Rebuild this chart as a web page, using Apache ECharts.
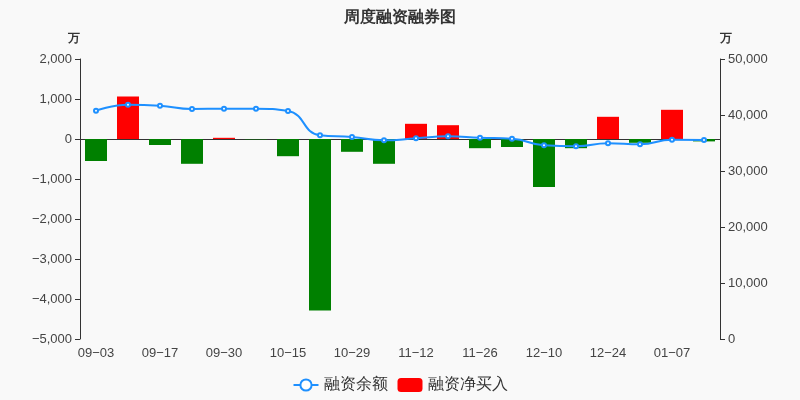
<!DOCTYPE html>
<html>
<head>
<meta charset="utf-8">
<script src="https://cdn.jsdelivr.net/npm/echarts@6/dist/echarts.min.js"></script>
<style>
html,body{margin:0;padding:0;background:#f9f9f9;}
#main{width:800px;height:400px;}
</style>
</head>
<body>
<div id="main"></div>
<script>
var dates=['09-03','09-10','09-17','09-24','09-30','10-08','10-15','10-22','10-29','11-05',
'11-12','11-19','11-26','12-03','12-10','12-17','12-24','12-31','01-07','01-14'];
var netBuy=[-550,1060,-150,-620,30,-10,-430,-4290,-320,-620,
380,345,-230,-200,-1200,-230,555,-95,730,-60];
var balance=[40770,41840,41660,41070,41120,41120,40710,36370,36070,35480,
35840,36190,35950,35770,34590,34410,34950,34770,35590,35540];
var leftTicks=[-5000,2000,1000];
var rightTicks=[0,50000,10000];

function fmt(v){
  var s=Math.abs(v).toString().replace(/\B(?=(\d{3})+(?!\d))/g,',');
  return (v<0?'\u2212':'')+s;
}

var chart=echarts.init(document.getElementById('main'));
chart.setOption({
  backgroundColor:'#f9f9f9',
  title:{
    text:'周度融资融券图',
    left:'center',
    top:5,
    textStyle:{fontSize:16,fontWeight:'bold',color:'#333'}
  },
  legend:{
    bottom:2,
    itemGap:10,
    itemWidth:25,
    itemHeight:14,
    textStyle:{fontSize:16,color:'#333'},
    data:['融资余额',{name:'融资净买入',itemStyle:{color:'#ff0000'}}]
  },
  grid:{left:80,right:80,top:59,bottom:61},
  xAxis:{
    type:'category',
    data:dates,
    axisLine:{lineStyle:{color:'#333'}},
    axisTick:{interval:1},
    axisLabel:{interval:1,color:'#444',fontSize:13,formatter:function(v){return v.replace('-','\u2212');}}
  },
  yAxis:[{
    type:'value',
    name:'万',
    nameGap:14,
    nameTextStyle:{color:'#333',fontWeight:'bold',fontSize:12,align:'right'},
    min:leftTicks[0],max:leftTicks[1],interval:leftTicks[2],
    axisLine:{show:true,lineStyle:{color:'#333'}},
    axisTick:{show:true},
    splitLine:{show:false},
    axisLabel:{color:'#444',fontSize:13,formatter:fmt}
  },{
    type:'value',
    name:'万',
    nameGap:14,
    nameTextStyle:{color:'#333',fontWeight:'bold',fontSize:12,align:'left'},
    min:rightTicks[0],max:rightTicks[1],interval:rightTicks[2],
    axisLine:{show:true,lineStyle:{color:'#333'}},
    axisTick:{show:true},
    splitLine:{show:false},
    axisLabel:{color:'#444',fontSize:13,formatter:fmt}
  }],
  series:[{
    name:'融资余额',
    type:'line',
    yAxisIndex:1,
    smooth:true,
    data:balance,
    symbol:'emptyCircle',
    symbolSize:4,
    z:3,
    itemStyle:{color:'#1e90ff',borderWidth:1},
    lineStyle:{width:2,color:'#1e90ff'}
  },{
    name:'融资净买入',
    type:'bar',
    yAxisIndex:0,
    barWidth:22,
    data:netBuy.map(function(v){
      return {value:v,itemStyle:{color:v>=0?'#ff0000':'#008000'}};
    })
  }]
});
</script>
</body>
</html>
